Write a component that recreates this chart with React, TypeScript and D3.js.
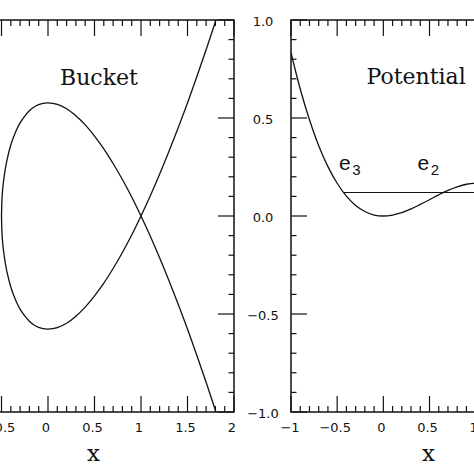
import { useEffect, useRef } from 'react';
import * as d3 from 'd3';

// axis ticks (both panels share the same x and y ranges)
const xMajor = [-1, -0.5, 0, 0.5, 1, 1.5, 2];
const xMajorLabels = ['\u22121', '\u22120.5', '0', '0.5', '1', '1.5', '2'];
const yMajor = [-1, -0.5, 0, 0.5, 1];
const yMajorLabels = ['\u22121.0', '\u22120.5', '0.0', '0.5', '1.0'];

// separatrix in phase space ("Bucket")
const bucketX = [
  -0.5, -0.495, -0.49, -0.48, -0.46, -0.44, -0.4, -0.35, -0.3, -0.25, -0.2, -0.15, -0.1, -0.05,
  0, 0.1, 0.2, 0.3, 0.4, 0.5, 0.6, 0.7, 0.8, 0.9, 1.0, 1.1, 1.2, 1.3, 1.4, 1.5, 1.6, 1.7, 1.8, 1.81,
];
const bucketUpper = [
  0, 0.086, 0.122, 0.171, 0.238, 0.288, 0.362, 0.427, 0.475, 0.51, 0.537, 0.556, 0.568, 0.575,
  0.577, 0.569, 0.547, 0.511, 0.465, 0.408, 0.343, 0.268, 0.186, 0.097, 0, -0.103, -0.213, -0.329,
  -0.45, -0.577, -0.71, -0.848, -0.991, -1.005,
];
const bucketLower = [
  0, -0.086, -0.122, -0.171, -0.238, -0.288, -0.362, -0.427, -0.475, -0.51, -0.537, -0.556, -0.568,
  -0.575, -0.577, -0.569, -0.547, -0.511, -0.465, -0.408, -0.343, -0.268, -0.186, -0.097, 0, 0.103,
  0.213, 0.329, 0.45, 0.577, 0.71, 0.848, 0.991, 1.005,
];

// cubic potential
const potentialX = [
  -1, -0.9, -0.8, -0.7, -0.6, -0.5, -0.4, -0.3, -0.2, -0.1, 0, 0.1, 0.2, 0.3, 0.4, 0.5, 0.6, 0.7,
  0.8, 0.9, 1.0, 1.1, 1.2,
];
const potentialV = [
  0.833, 0.648, 0.491, 0.359, 0.252, 0.167, 0.101, 0.054, 0.023, 0.005, 0, 0.005, 0.017, 0.036,
  0.059, 0.083, 0.108, 0.131, 0.149, 0.162, 0.167, 0.161, 0.144,
];

// energy level line and its turning-point labels
const energyX = [-0.43, 1.28];
const energyY = [0.12, 0.12];
const levelNames = ['e', 'e'];
const levelSubs = ['3', '2'];

const W = 474;
const H = 474;

export default function App() {
  const ref = useRef<SVGSVGElement>(null);

  useEffect(() => {
    if (!ref.current) return;
    const svg = d3.select(ref.current);
    svg.selectAll('*').remove();

    const yScale = d3.scaleLinear().domain([-1, 1]).range([412, 20]);
    const panels = [
      { id: 'bucket', x: d3.scaleLinear().domain([-1, 2]).range([-45, 234]) },
      { id: 'potential', x: d3.scaleLinear().domain([-1, 2]).range([291, 568]) },
    ];

    const defs = svg.append('defs');
    const minorX = panels[0].x.ticks(30);
    const minorY = yScale.ticks(20);
    const isMajorX = (v: number) => xMajor.some(m => Math.abs(m - v) < 1e-6);
    const isMajorY = (v: number) => yMajor.some(m => Math.abs(m - v) < 1e-6);

    panels.forEach((p, pi) => {
      const [x0, x1] = p.x.range();
      const [y1, y0] = yScale.range();
      defs.append('clipPath').attr('id', `clip-${p.id}`)
        .append('rect').attr('x', x0).attr('y', y0).attr('width', x1 - x0).attr('height', y1 - y0);

      const g = svg.append('g');

      // frame
      g.append('rect')
        .attr('x', x0).attr('y', y0)
        .attr('width', x1 - x0).attr('height', y1 - y0)
        .attr('fill', 'none').attr('stroke', '#111').attr('stroke-width', 1.5);

      // ticks on all four sides, pointing inward
      minorX.forEach(v => {
        const len = isMajorX(v) ? 16 : 6;
        const xx = p.x(v);
        g.append('line').attr('x1', xx).attr('x2', xx).attr('y1', y1).attr('y2', y1 - len)
          .attr('stroke', '#111').attr('stroke-width', 1.2);
        g.append('line').attr('x1', xx).attr('x2', xx).attr('y1', y0).attr('y2', y0 + len)
          .attr('stroke', '#111').attr('stroke-width', 1.2);
      });
      minorY.forEach(v => {
        const len = isMajorY(v) ? 16 : 5.5;
        const yy = yScale(v);
        g.append('line').attr('x1', x0).attr('x2', x0 + len).attr('y1', yy).attr('y2', yy)
          .attr('stroke', '#111').attr('stroke-width', 1.2);
        g.append('line').attr('x1', x1).attr('x2', x1 - len).attr('y1', yy).attr('y2', yy)
          .attr('stroke', '#111').attr('stroke-width', 1.2);
      });

      // x tick labels (only those that at least partly fall on the page)
      const xLabelIdx = xMajor.map((d, i) => i)
        .filter(i => p.x(xMajor[i]) > -20 && p.x(xMajor[i]) < W + 10);
      g.selectAll('.xl')
        .data(xLabelIdx)
        .join('text')
        .attr('x', i => p.x(xMajor[i]) - (i === 0 ? 1 : 2))
        .attr('y', 432)
        .attr('text-anchor', 'middle')
        .style('font-family', 'DejaVu Sans')
        .style('font-size', '13px')
        .style('fill', '#111')
        .text(i => xMajorLabels[i]);

      // y tick labels sit between the panels (left panel's are off the page)
      if (pi === 1) {
        g.selectAll('.yl')
          .data(yMajor)
          .join('text')
          .attr('x', x0 - 28)
          .attr('y', d => yScale(d) + 5.5)
          .attr('text-anchor', 'middle')
          .style('font-family', 'DejaVu Sans')
          .style('font-size', '13px')
          .style('fill', '#111')
          .text((d, i) => yMajorLabels[i]);
      }

      // x axis title
      g.append('text')
        .attr('x', (x0 + x1) / 2 - 1)
        .attr('y', 461)
        .attr('text-anchor', 'middle')
        .style('font-family', 'DejaVu Serif')
        .style('font-size', '23px')
        .style('fill', '#111')
        .text('x');

      const plot = g.append('g').attr('clip-path', `url(#clip-${p.id})`);

      if (pi === 0) {
        const line = d3.line<number>()
          .x((d, i) => p.x(bucketX[i]))
          .y(d => yScale(d))
          .curve(d3.curveCatmullRom);
        [bucketUpper, bucketLower].forEach(branch => {
          plot.append('path')
            .datum(branch)
            .attr('d', line)
            .attr('fill', 'none')
            .attr('stroke', '#111')
            .attr('stroke-width', 1.3);
        });

        g.append('text')
          .attr('x', 60)
          .attr('y', 84.5)
          .style('font-family', 'DejaVu Serif')
          .style('font-size', '22px')
          .style('fill', '#111')
          .text('Bucket');
      } else {
        const line = d3.line<number>()
          .x((d, i) => p.x(potentialX[i]))
          .y(d => yScale(d))
          .curve(d3.curveCatmullRom);
        plot.append('path')
          .datum(potentialV)
          .attr('d', line)
          .attr('fill', 'none')
          .attr('stroke', '#111')
          .attr('stroke-width', 1.3);

        const eline = d3.line<number>()
          .x((d, i) => p.x(energyX[i]))
          .y(d => yScale(d));
        plot.append('path')
          .datum(energyY)
          .attr('d', eline)
          .attr('fill', 'none')
          .attr('stroke', '#111')
          .attr('stroke-width', 1.1);

        // e3 / e2 labels
        const labelX = [339, 417.5];
        levelNames.forEach((name, i) => {
          const t = g.append('text')
            .attr('x', labelX[i])
            .attr('y', 170)
            .style('font-family', 'Liberation Sans')
            .style('font-size', '21px')
            .style('fill', '#111');
          t.append('tspan').text(name);
          t.append('tspan')
            .attr('dx', 1.5)
            .attr('dy', 4.5)
            .style('font-size', '15px')
            .text(levelSubs[i]);
        });

        g.append('text')
          .attr('x', 366.5)
          .attr('y', 84)
          .style('font-family', 'DejaVu Serif')
          .style('font-size', '22px')
          .style('fill', '#111')
          .text('Potential');
      }
    });
  }, []);

  return (
    <div style={{ position: 'absolute', left: 0, top: 0, width: W, height: H, background: '#fff' }}>
      <svg ref={ref} width={W} height={H} style={{ display: 'block' }} />
    </div>
  );
}
